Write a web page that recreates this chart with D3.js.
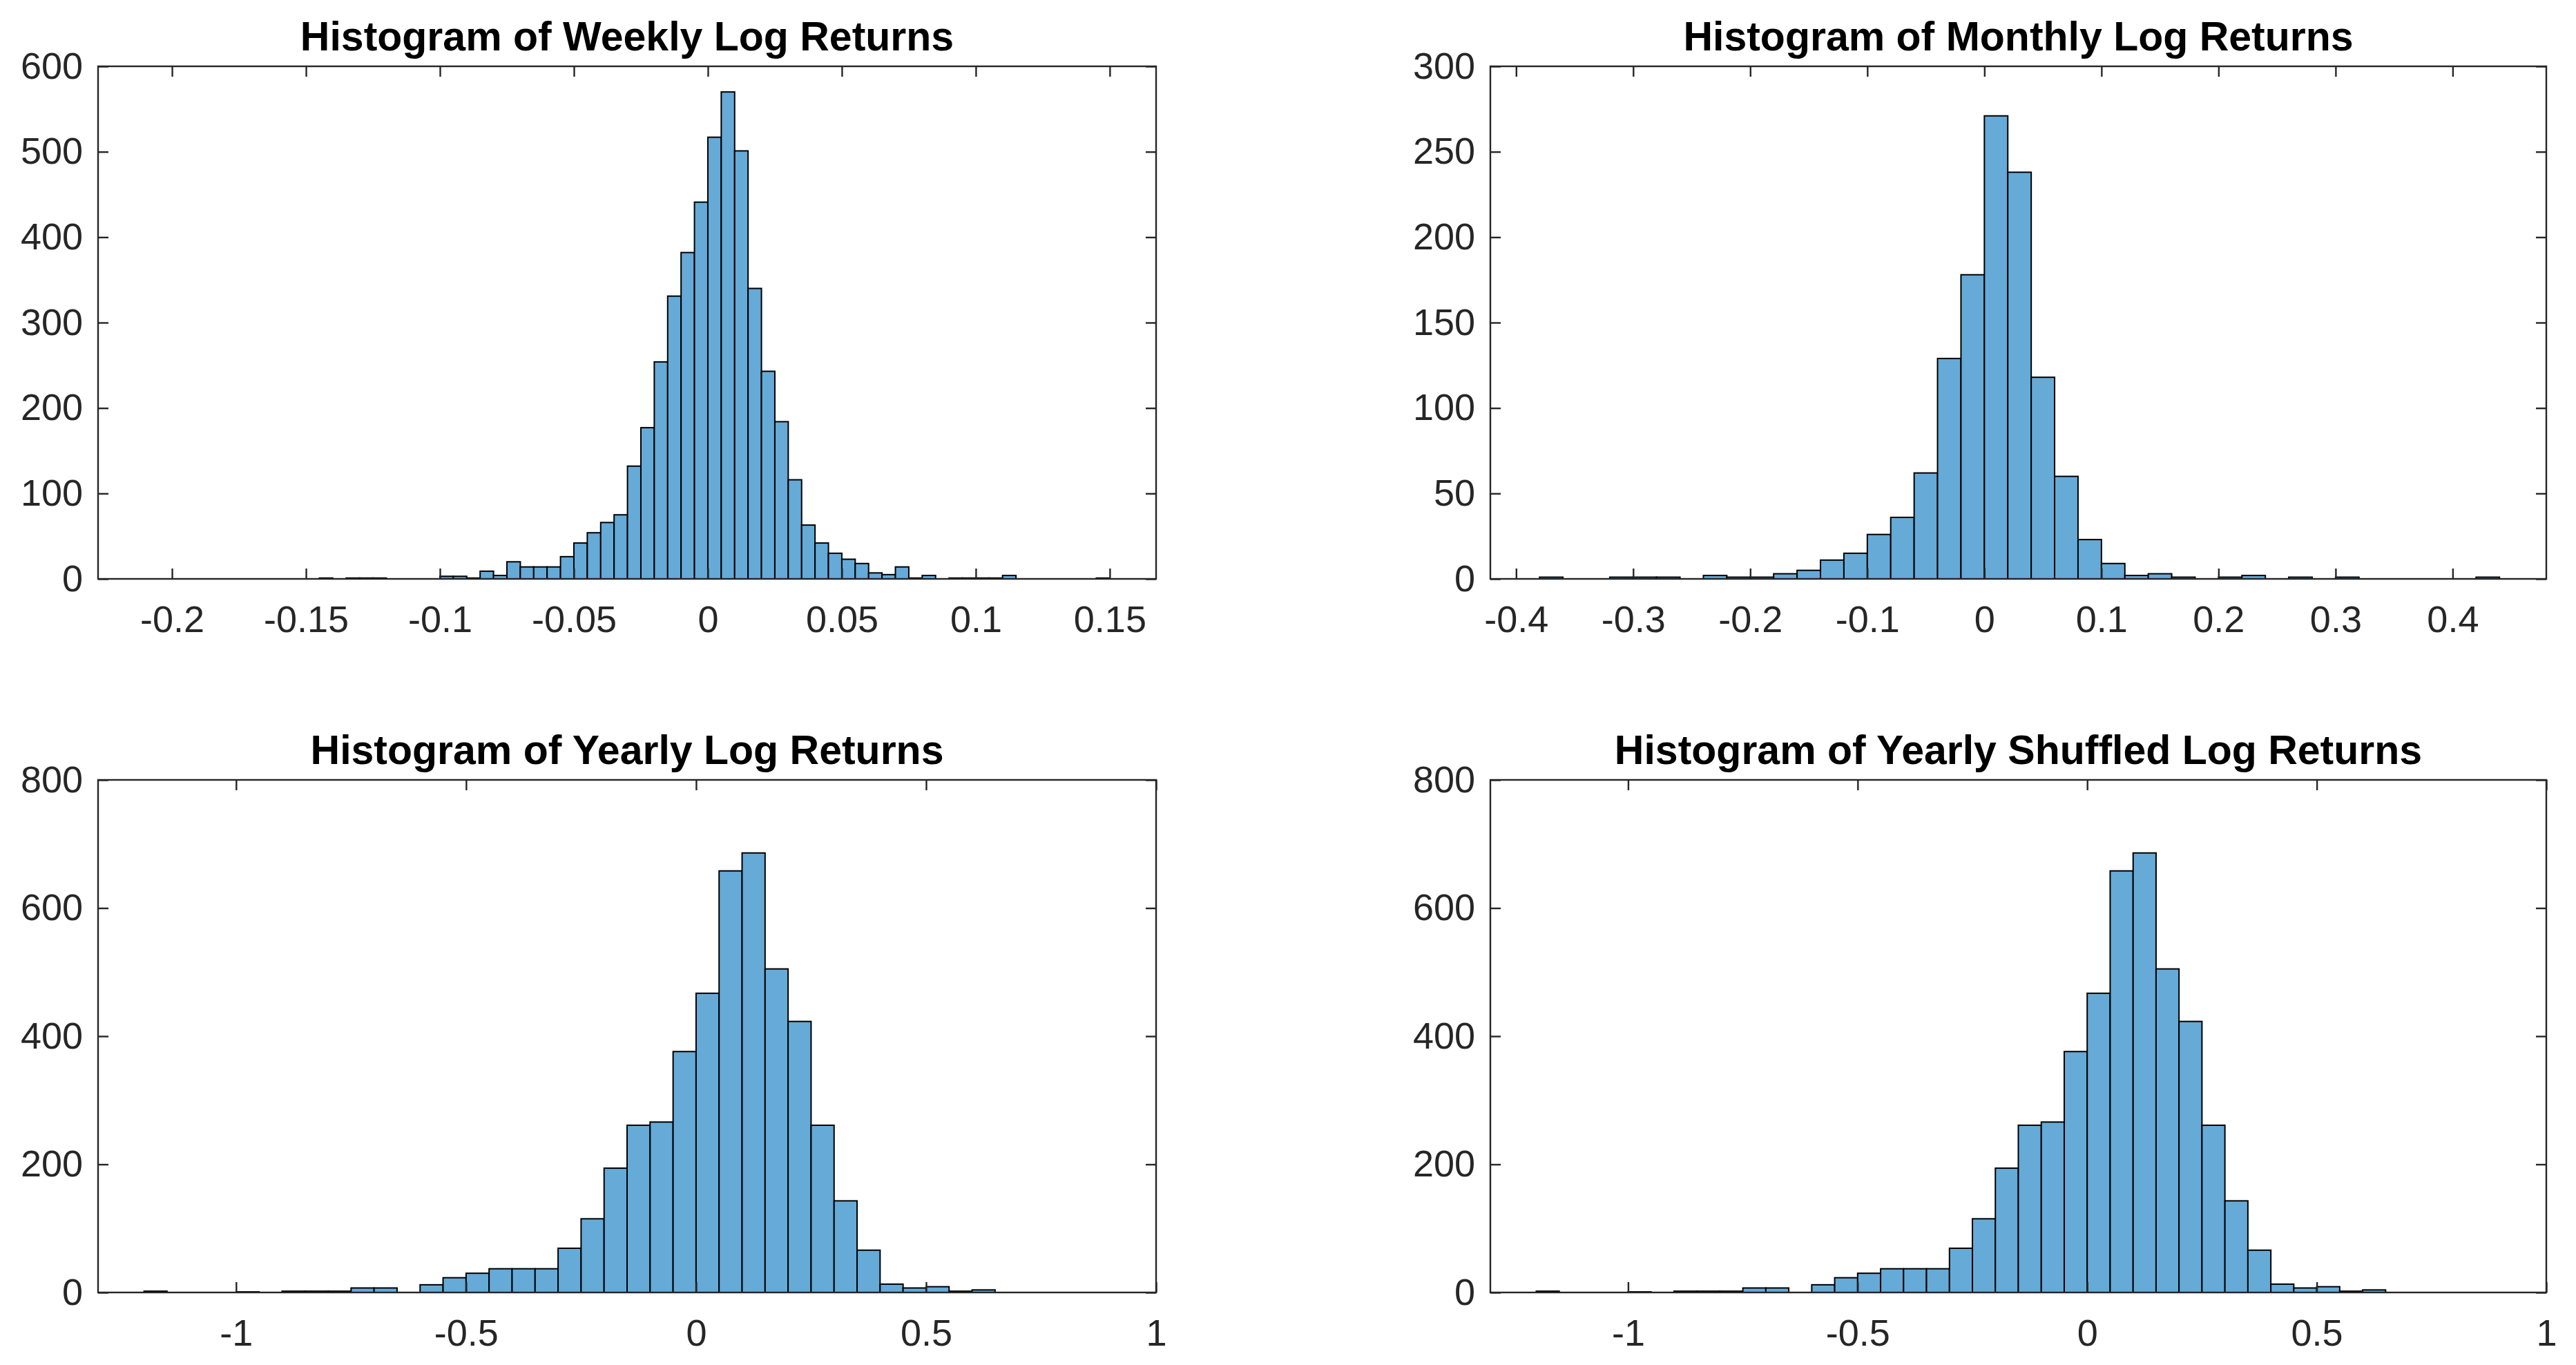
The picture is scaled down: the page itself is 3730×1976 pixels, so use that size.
<!DOCTYPE html>
<html>
  <head>
    <title>Log Return Histograms</title>
    <script src="https://cdn.jsdelivr.net/npm/d3@7/dist/d3.min.js"></script>
    <style>
      body { margin: 0; background: #ffffff; }
      text { font-family: 'Liberation Sans', Arial, Helvetica, sans-serif; }
    </style>
  </head>
  <body>
    <svg width="3730" height="1976" id="mainsvg" class="svgs"></svg>
    <script>
      // ---- data (bin start, bin width, counts) ----
      const weeklyStart = -0.145;
      const weeklyBin = 0.005;
      const weeklyCounts = [1, 0, 1, 1, 1, 0, 0, 0, 0, 3, 3, 1, 9, 4, 20, 14, 14, 14, 26, 42,
        54, 66, 75, 132, 177, 254, 331, 382, 441, 517, 570, 501, 340, 243, 184, 116, 63, 42, 30, 23,
        18, 7, 5, 14, 1, 4, 0, 1, 1, 1, 1, 4, 0, 0, 0, 0, 0, 0, 1];
      const weeklyXTicks = [-0.2, -0.15, -0.1, -0.05, 0, 0.05, 0.1, 0.15];
      const weeklyYTicks = [0, 100, 200, 300, 400, 500, 600];

      const monthlyStart = -0.38;
      const monthlyBin = 0.02;
      const monthlyCounts = [1, 0, 0, 1, 1, 1, 0, 2, 1, 1, 3, 5, 11, 15, 26, 36, 62, 129, 178, 271,
        238, 118, 60, 23, 9, 2, 3, 1, 0, 1, 2, 0, 1, 0, 1, 0, 0, 0, 0, 0, 1];
      const monthlyXTicks = [-0.4, -0.3, -0.2, -0.1, 0, 0.1, 0.2, 0.3, 0.4];
      const monthlyYTicks = [0, 50, 100, 150, 200, 250, 300];

      const yearlyStart = -1.2;
      const yearlyBin = 0.05;
      const yearlyCounts = [2, 0, 0, 0, 1, 0, 2, 2, 2, 7, 7, 0, 12, 23, 30, 37, 37, 37, 69, 115,
        194, 261, 266, 376, 467, 658, 686, 505, 423, 261, 143, 66, 13, 7, 9, 2, 4];
      const shuffledStart = -1.2;
      const shuffledBin = 0.05;
      const shuffledCounts = [2, 0, 0, 0, 1, 0, 2, 2, 2, 7, 7, 0, 12, 23, 30, 37, 37, 37, 69, 115,
        194, 261, 266, 376, 467, 658, 686, 505, 423, 261, 143, 66, 13, 7, 9, 2, 4];
      const yearlyXTicks = [-1, -0.5, 0, 0.5, 1];
      const yearlyYTicks = [0, 200, 400, 600, 800];

      const titles = [
        'Histogram of Weekly Log Returns',
        'Histogram of Monthly Log Returns',
        'Histogram of Yearly Log Returns',
        'Histogram of Yearly Shuffled Log Returns'
      ];

      // ---- layout ----
      const svg = d3.select('#mainsvg');
      const axisColor = '#262626';
      const barColor = '#66aad7';
      const tickFont = 54;
      const titleFont = 59;
      const tickLen = 15;

      const panels = [
        {title: titles[0], start: weeklyStart, bin: weeklyBin, counts: weeklyCounts,
         xTicks: weeklyXTicks, yTicks: weeklyYTicks, xDomain: [-0.2276, 0.1673],
         left: 142, top: 96, width: 1532, height: 742},
        {title: titles[1], start: monthlyStart, bin: monthlyBin, counts: monthlyCounts,
         xTicks: monthlyXTicks, yTicks: monthlyYTicks, xDomain: [-0.422, 0.48],
         left: 2158, top: 96, width: 1529, height: 742},
        {title: titles[2], start: yearlyStart, bin: yearlyBin, counts: yearlyCounts,
         xTicks: yearlyXTicks, yTicks: yearlyYTicks, xDomain: [-1.3, 1],
         left: 142, top: 1129, width: 1532, height: 742},
        {title: titles[3], start: shuffledStart, bin: shuffledBin, counts: shuffledCounts,
         xTicks: yearlyXTicks, yTicks: yearlyYTicks, xDomain: [-1.3, 1],
         left: 2158, top: 1129, width: 1529, height: 742}
      ];

      const fmt = d => String(+d.toFixed(4));

      const drawPanel = function(p){
        const g = svg.append('g')
          .attr('transform', `translate(${p.left}, ${p.top})`);

        const xScale = d3.scaleLinear().domain(p.xDomain).range([0, p.width]);
        const yScale = d3.scaleLinear()
          .domain([p.yTicks[0], p.yTicks[p.yTicks.length - 1]])
          .range([p.height, 0]);

        const bins = p.counts
          .map((c, i) => ({x0: p.start + i * p.bin, x1: p.start + (i + 1) * p.bin, count: c}))
          .filter(d => d.count > 0);

        g.selectAll('rect.bar').data(bins).join('rect')
          .attr('class', 'bar')
          .attr('x', d => xScale(d.x0))
          .attr('width', d => xScale(d.x1) - xScale(d.x0))
          .attr('y', d => yScale(d.count))
          .attr('height', d => p.height - yScale(d.count))
          .attr('fill', barColor)
          .attr('stroke', '#000000')
          .attr('stroke-width', 2);

        // bottom axis with labels, ticks pointing inward
        const xAxis = g.append('g')
          .attr('transform', `translate(0, ${p.height})`)
          .call(d3.axisBottom(xScale).tickValues(p.xTicks).tickFormat(fmt)
            .tickSizeInner(-tickLen).tickSizeOuter(0).tickPadding(39));
        // top mirror ticks
        const xTop = g.append('g')
          .call(d3.axisTop(xScale).tickValues(p.xTicks).tickFormat('')
            .tickSizeInner(-tickLen).tickSizeOuter(0));
        // left axis with labels
        const yAxis = g.append('g')
          .call(d3.axisLeft(yScale).tickValues(p.yTicks).tickFormat(fmt)
            .tickSizeInner(-tickLen).tickSizeOuter(0).tickPadding(22));
        // right mirror ticks
        const yRight = g.append('g')
          .attr('transform', `translate(${p.width}, 0)`)
          .call(d3.axisRight(yScale).tickValues(p.yTicks).tickFormat('')
            .tickSizeInner(-tickLen).tickSizeOuter(0));

        [xAxis, xTop, yAxis, yRight].forEach(a => {
          a.select('.domain').remove();
          a.selectAll('line').attr('stroke', axisColor).attr('stroke-width', 2.4);
          a.selectAll('text').attr('fill', axisColor).attr('font-size', tickFont)
            .attr('font-family', "'Liberation Sans', Arial, sans-serif");
        });

        g.append('rect')
          .attr('x', 0).attr('y', 0)
          .attr('width', p.width).attr('height', p.height)
          .attr('fill', 'none')
          .attr('stroke', axisColor)
          .attr('stroke-width', 2.4);

        g.append('text')
          .attr('x', p.width / 2)
          .attr('y', -23)
          .attr('text-anchor', 'middle')
          .attr('font-size', titleFont)
          .attr('font-weight', 'bold')
          .attr('fill', '#000000')
          .text(p.title);
      };

      panels.forEach(drawPanel);
    </script>
  </body>
</html>
